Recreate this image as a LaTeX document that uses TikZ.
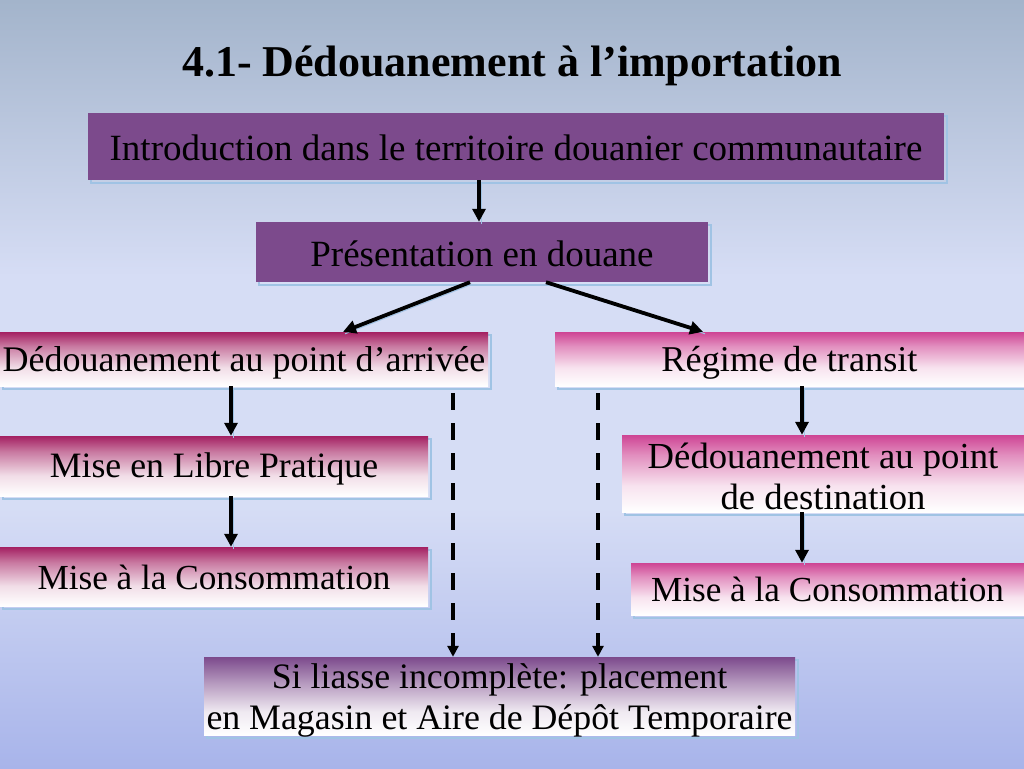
\documentclass[tikz,border=0pt]{standalone}
\usepackage{fontspec}
\setmainfont{Liberation Serif}
\usetikzlibrary{arrows.meta,calc}
\definecolor{bgtop}{RGB}{163,180,203}
\definecolor{bgmid}{RGB}{214,221,245}
\definecolor{bgbot}{RGB}{168,180,234}
\definecolor{purp}{RGB}{124,74,140}
\definecolor{magL}{RGB}{164,32,98}
\definecolor{magR}{RGB}{206,68,148}
\definecolor{shad}{RGB}{160,195,228}
\colorlet{magLa}{magL!15!white}
\colorlet{magLb}{magL!60!white}
\colorlet{magRa}{magR!15!white}
\colorlet{magRb}{magR!60!white}
\colorlet{purpa}{purp!12!white}
\colorlet{purpb}{purp!55!white}
\pgfdeclareverticalshading{bgshade}{100bp}{color(0bp)=(bgbot); color(25bp)=(bgbot); color(42bp)=(bgmid); color(57bp)=(bgmid); color(75bp)=(bgtop); color(100bp)=(bgtop)}
\pgfdeclareverticalshading{gradL}{100bp}{color(0bp)=(white); color(25bp)=(white); color(42bp)=(magLa); color(62bp)=(magLb); color(75bp)=(magL); color(100bp)=(magL)}
\pgfdeclareverticalshading{gradR}{100bp}{color(0bp)=(white); color(25bp)=(white); color(42bp)=(magRa); color(62bp)=(magRb); color(75bp)=(magR); color(100bp)=(magR)}
\pgfdeclareverticalshading{gradP}{100bp}{color(0bp)=(white); color(25bp)=(white); color(40bp)=(purpa); color(58bp)=(purpb); color(75bp)=(purp); color(100bp)=(purp)}
\newcommand{\fsz}[1]{\fontsize{#1}{41}\selectfont}
\begin{document}
\begin{tikzpicture}[x=1pt,y=-1pt,
  box/.style={rectangle, inner sep=0pt,
    preaction={draw=shad, line width=1.2pt, transform canvas={shift={(3pt,-3pt)}}}},
  txt/.style={inner sep=0pt, text=black, align=center},
  purpbox/.style={box, fill=purp},
  lbox/.style={box, shading=gradL},
  rbox/.style={box, shading=gradR},
  pbox/.style={box, shading=gradP},
  arr/.style={line width=3.8pt, -{Triangle[length=13pt,width=13pt]},
    preaction={draw=shad, line width=1pt, -, transform canvas={shift={(2pt,-2pt)}}}},
  darr/.style={line width=4pt, dash pattern=on 17pt off 13pt, -{Triangle[length=11pt,width=11pt]}},
]
\useasboundingbox (0,0) rectangle (1024,768);
\shade[shading=bgshade] (0,0) rectangle (1024,768);

% title
\node[text=black, font=\fontsize{44}{48}\selectfont\bfseries] (title) at (512,66) {4.1- Dédouanement à l’importation};

% boxes
\node[purpbox, minimum width=856pt, minimum height=67pt,
  label={[txt, font=\fsz{37}, yshift=-1pt]center:Introduction dans le territoire douanier communautaire}] (intro) at (516,146.5) {};
\node[purpbox, minimum width=452pt, minimum height=60pt,
  label={[txt, font=\fsz{37}, yshift=-2pt]center:Présentation en douane}] (pres) at (482,252) {};
\node[lbox, minimum width=488pt, minimum height=54pt,
  label={[txt, font=\fsz{36}, yshift=-4pt]center:Dédouanement au point d’arrivée}] (arrivee) at (244,359) {};
\node[rbox, minimum width=469pt, minimum height=54pt,
  label={[txt, font=\fsz{36.3}, yshift=-4pt]center:Régime de transit}] (transit) at (789.5,359) {};
\node[lbox, minimum width=428pt, minimum height=60pt,
  label={[txt, font=\fsz{35.7}, yshift=-3pt]center:Mise en Libre Pratique}] (mlp) at (214,466) {};
\node[lbox, minimum width=428pt, minimum height=59pt,
  label={[txt, font=\fsz{35.2}, yshift=-1pt]center:Mise à la Consommation}] (macL) at (214,576.5) {};
\node[rbox, minimum width=402pt, minimum height=77pt,
  label={[txt, font=\fsz{36.7}, yshift=-3pt]center:Dédouanement au point\\de destination}] (dest) at (823,473.5) {};
\node[rbox, minimum width=393pt, minimum height=52pt,
  label={[txt, font=\fsz{35.2}]center:Mise à la Consommation}] (macR) at (827.5,589) {};
\node[pbox, minimum width=591pt, minimum height=78pt,
  label={[txt, font=\fsz{35.8}, yshift=-4pt]center:Si liasse incomplète: placement\\en Magasin et Aire de Dépôt Temporaire}] (mag) at (499.5,696) {};

% arrows
\draw[arr] (intro.south -| 479,0) -- (pres.north -| 479,0);
\draw[arr] (pres.south -| 470,0) -- (arrivee.north -| 343,0);
\draw[arr] (pres.south -| 546,0) -- (transit.north -| 703,0);
\draw[arr] (arrivee.south -| 231,0) -- (mlp.north -| 231,0);
\draw[arr] (mlp.south -| 231,0) -- (macL.north -| 231,0);
\draw[arr] (transit.south -| 802,0) -- (dest.north -| 802,0);
\draw[arr] (dest.south -| 802,0) -- (macR.north -| 802,0);
\draw[darr] ($(arrivee.south -| 453,0)+(0,7)$) -- (mag.north -| 453,0);
\draw[darr] ($(transit.south -| 598,0)+(0,7)$) -- (mag.north -| 598,0);
\end{tikzpicture}
\end{document}
